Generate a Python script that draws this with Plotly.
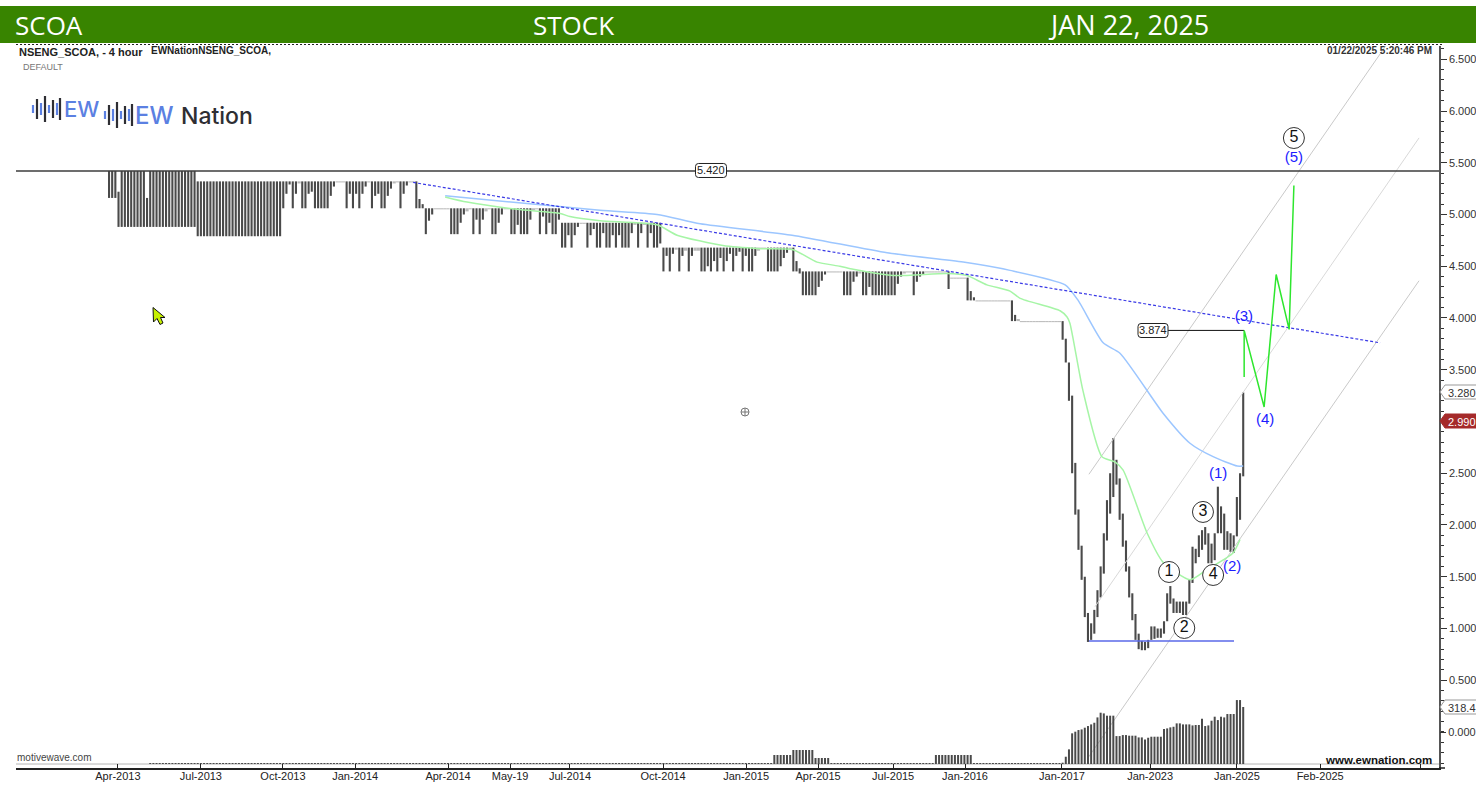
import plotly.graph_objects as go

# price bars, one per 4h slot
low_a = [5.16, 5.16, 5.16] + [4.88] * 25 + [4.79] * 27
low_b = [5.06, 5.20, 5.29, 5.06, 5.20, 5.30, 5.06, 5.06, 5.20, 5.22, 5.06, 5.06, 5.06, 5.06, 5.06,
         5.18, 5.27, 5.31, 5.31, 5.31, 5.06, 5.20, 5.06, 5.20, 5.06, 5.20, 5.27, 5.31, 5.06, 5.18,
         5.20, 5.06, 5.06, 5.18, 5.25, 5.30, 5.31, 5.06, 5.20, 5.28, 5.31, 5.31, 5.06, 5.06, 5.06]
low_c = [4.81, 4.94, 5.00, 5.05, 5.05, 5.05, 5.05, 5.05, 4.81, 4.81, 4.81, 4.92, 5.00, 5.03, 5.05,
         4.81, 4.95, 4.81, 4.95, 5.03, 5.05, 4.81, 4.81, 4.92, 5.00, 5.05, 5.05, 4.81, 4.81, 4.90,
         4.81, 4.81, 4.81, 4.95, 5.04, 5.05, 4.81, 4.98, 4.81, 4.92, 4.81, 4.81, 4.95]
low_d = [4.68, 4.68, 4.80, 4.68, 4.80, 4.88, 4.91, 4.91, 4.68, 4.80, 4.86, 4.68, 4.68, 4.82, 4.68, 4.68,
         4.80, 4.68, 4.80, 4.68, 4.68, 4.68, 4.82, 4.90, 4.68, 4.82, 4.90, 4.68, 4.82, 4.68, 4.68, 4.72]
low_e = [4.45, 4.60, 4.45, 4.62, 4.66, 4.45, 4.60, 4.65, 4.45, 4.60, 4.65, 4.65, 4.45, 4.45, 4.50,
         4.45, 4.55, 4.45, 4.58, 4.45, 4.55, 4.62, 4.45, 4.60, 4.64, 4.45, 4.60, 4.45, 4.45, 4.60,
         4.65, 4.67, 4.67, 4.45, 4.45, 4.45, 4.45, 4.50, 4.58, 4.63, 4.66, 4.45, 4.45, 4.43]
low_f = [4.22] * 5 + [4.30, 4.36, 4.42] + [4.44] * 5 + [4.22, 4.22, 4.22, 4.35, 4.40, 4.43, 4.22, 4.22, 4.30] \
    + [4.22] * 8 + [4.33, 4.40, 4.43, 4.44, 4.44, 4.22, 4.35, 4.40, 4.42] + [4.44] * 7 + [4.28] \
    + [4.38] * 5 + [4.17, 4.17, 4.17] + [4.16] * 11 + [3.97, 3.97, 3.97] + [3.96] * 13
low_g = [3.79, 3.57, 3.20, 2.50, 2.10, 1.76, 1.47, 1.11, 0.87, 0.89, 0.95, 1.11, 1.30, 1.53, 1.85, 2.11,
         2.27, 2.39, 2.05, 1.79, 1.55, 1.30, 1.08, 0.89, 0.80, 0.79, 0.79, 0.81, 0.89, 0.90, 0.91, 0.91,
         0.95, 1.07, 1.24, 1.15, 1.15, 1.15, 1.13, 1.13, 1.24, 1.44, 1.63, 1.69, 1.76, 1.81, 1.63, 1.63,
         1.66, 1.92, 1.92, 1.76, 1.76, 1.74, 1.73, 1.89, 2.05, 2.47]
bar_low = low_a + low_b + low_c + low_d + low_e + low_f + low_g

high_a = [5.42, 5.42, 5.42, 5.22] + [5.42] * 8 + [5.16] + [5.42] * 15
high_b = [5.32] * 70 + [5.15, 5.10]
high_c = [5.06] * 43 + [4.92] * 32 + [4.68] * 42 + [4.55, 4.48] + [4.45] * 47
high_d = [4.39] * 6 + [4.26, 4.20] + [4.17] * 12 + [4.03, 3.99] + [3.97] * 13
high_e = [3.97, 3.80, 3.57, 3.25, 2.60, 2.15, 1.80, 1.50, 1.15, 1.05, 1.18, 1.37, 1.60, 1.92, 2.24, 2.50,
          2.84, 2.63, 2.45, 2.11, 1.85, 1.60, 1.34, 1.14, 0.95, 0.88, 0.87, 0.89, 1.02, 1.02, 1.00, 1.00,
          1.07, 1.34, 1.41, 1.29, 1.26, 1.26, 1.26, 1.26, 1.47, 1.79, 1.77, 1.90, 1.95, 1.98, 1.92, 1.82,
          1.92, 2.37, 2.18, 2.11, 1.94, 1.92, 1.90, 2.27, 2.50, 3.28]
bar_high = high_a + high_b + high_c + high_d + high_e
assert len(bar_low) == len(bar_high) == 359, (len(bar_low), len(bar_high))
bar_slot = list(range(len(bar_high)))

# volume pane, on its own scale (0.000 and 318.4 are printed on the right)
vol_base = -408
vol_slot = list(range(13, 359))
vol_value = [-395] * 197 + [-293] * 6 + [-229] * 7 + [-331] * 5 + [-395] * 33 + [-293] * 12 + [-395] * 28 + [
    -391, -315, -221, -17, 4, 25, 33, 55, 76, 97, 118, 186, 246, 237, 208, 208, 208, -52, -52, -39, -39,
    -47, -47, -47, -69, -69, -94, -73, -60, -60, -60, -60, 38, 46, 59, 67, 110, 110, 97, 97, 97, 84,
    89, 89, 169, 76, 84, 144, 195, 152, 195, 186, 229, 229, 229, 407, 407, 318.4]
assert len(vol_value) == len(vol_slot), len(vol_value)

# moving averages
ma_blue_x = [106.1, 155, 173, 186.6, 215.6, 245.6, 269.6, 284.4, 301.8, 305.9, 313.8, 319.1, 332.7, 341.2, 348.5, 356.1, 358]
ma_blue_y = [5.18, 5.04, 5.00, 4.91, 4.80, 4.63, 4.54, 4.46, 4.32, 4.17, 3.76, 3.66, 3.08, 2.79, 2.66, 2.57, 2.57]
ma_green_x = [106.1, 113, 128.8, 142.4, 145.5, 155, 173, 179.3, 193.8, 205.5, 215.9, 223.5, 230.7, 234.9, 247.5, 264.5,
              270.8, 277.1, 284.4, 287.6, 300.2, 302.4, 303.3, 307.4, 313.4, 317.5, 320.1, 327.7, 332.7, 341.2, 346.6, 354.8, 357]
ma_green_y = [5.17, 5.12, 5.05, 5.01, 4.98, 4.94, 4.90, 4.80, 4.70, 4.67, 4.66, 4.54, 4.50, 4.47, 4.41, 4.43,
              4.41, 4.32, 4.26, 4.19, 4.07, 4.01, 3.95, 3.30, 2.66, 2.61, 2.53, 1.92, 1.64, 1.47, 1.57, 1.73, 1.86]

# drawn studies
resist_x = [-29.36, 419.8]
resist_y = [5.42, 5.42]
vol_floor_x = [-29.36, 419.8]
vol_floor_y = [-408, -408]
wave3_x = [334.3, 358.3]
wave3_y = [3.88, 3.88]
base_x = [309.3, 355.1]
base_y = [0.88, 0.88]
trend_x = [96, 401.2]
trend_y = [5.31, 3.76]
chan_top_x = [309.3, 403]
chan_top_y = [2.49, 6.63]
chan_mid_x = [311.2, 413.5]
chan_mid_y = [1.21, 5.74]
chan_low_x = [309, 413.5]
chan_low_y = [-0.25, 4.36]
proj_x = [358.3, 358.3, 364.6, 368.4, 372.5, 374]
proj_y = [3.43, 3.88, 3.14, 4.42, 3.89, 5.28]

# wave labels
circle_text = ["1", "2", "3", "4", "5"]
circle_x = [334.6, 339.4, 345.3, 348.5, 374]
circle_y = [1.546, 1.005, 2.126, 1.517, 5.739]
paren_text = ["(1)", "(2)", "(3)", "(4)", "(5)"]
paren_x = [350.1, 354.5, 358.2, 364.9, 374]
paren_y = [2.493, 1.59, 4.01, 3.014, 5.546]

# axes
date_slot = [2.8, 29, 54.9, 77.7, 107, 126.6, 145.5, 174.9, 201.1, 223.8, 247.5, 270.2, 300.8, 328.6, 356, 382.3, 414.1]
date_text = ["Apr-2013", "Jul-2013", "Oct-2013", "Jan-2014", "Apr-2014", "May-19", "Jul-2014", "Oct-2014", "Jan-2015",
             "Apr-2015", "Jul-2015", "Jan-2016", "Jan-2017", "Jan-2023", "Jan-2025", "Feb-2025", ""]
price_tick = [0.5, 1, 1.5, 2, 2.5, 3, 3.5, 4, 4.5, 5, 5.5, 6, 6.5]

W, H = 1476, 786
LEFT, RIGHT, TOP, BOTTOM = 16, 1439, 46, 768
ARIAL = "Liberation Sans"


def px(x):
    return (x - LEFT) / (RIGHT - LEFT)


def py(y):
    return (BOTTOM - y) / (BOTTOM - TOP)


def note(text, x, y, size, color, anchor="left", family=ARIAL, weight=None):
    font = dict(family=family, size=size, color=color)
    if weight:
        font["weight"] = weight
    return dict(text=text, x=px(x), y=py(y), xref="paper", yref="paper", showarrow=False,
                xanchor=anchor, yanchor="middle", font=font, borderpad=0)


def poly(points, fill, line="rgba(0,0,0,0)", width=1):
    path = "M " + " L ".join(f"{px(a):.5f} {py(b):.5f}" for a, b in points) + " Z"
    return dict(type="path", path=path, xref="paper", yref="paper", fillcolor=fill,
                line=dict(color=line, width=width), layer="above")


def rounded(xc, yc, w, h, r=3):
    x0, x1, y0, y1 = xc - w / 2, xc + w / 2, yc - h / 2, yc + h / 2
    path = (f"M {px(x0 + r):.5f} {py(y0):.5f} L {px(x1 - r):.5f} {py(y0):.5f} "
            f"Q {px(x1):.5f} {py(y0):.5f} {px(x1):.5f} {py(y0 + r):.5f} L {px(x1):.5f} {py(y1 - r):.5f} "
            f"Q {px(x1):.5f} {py(y1):.5f} {px(x1 - r):.5f} {py(y1):.5f} L {px(x0 + r):.5f} {py(y1):.5f} "
            f"Q {px(x0):.5f} {py(y1):.5f} {px(x0):.5f} {py(y1 - r):.5f} L {px(x0):.5f} {py(y0 + r):.5f} "
            f"Q {px(x0):.5f} {py(y0):.5f} {px(x0 + r):.5f} {py(y0):.5f} Z")
    return dict(type="path", path=path, xref="paper", yref="paper", fillcolor="white",
                line=dict(color="#222222", width=1), layer="above")


def seg(x0, y0, x1, y1, color, width=1, dash="solid"):
    return dict(type="line", x0=px(x0), y0=py(y0), x1=px(x1), y1=py(y1), xref="paper", yref="paper",
                line=dict(color=color, width=width, dash=dash), layer="above")


def callout(y, fill, line):
    return poly([(1440, y), (1445, y - 7), (1480, y - 7), (1480, y + 7), (1445, y + 7)], fill, line)


def line_trace(x, y, color, width=1, dash="solid", smooth=False, **kw):
    style = dict(color=color, width=width, dash=dash)
    if smooth:
        style.update(shape="spline", smoothing=0.6)
    return go.Scatter(x=x, y=y, mode="lines", line=style, hoverinfo="skip", **kw)


def sticks(slots, lows, highs, color, width, **kw):
    # one vertical stroke per slot, broken up with None
    xs, ys = [], []
    for s, l, h in zip(slots, lows, highs):
        xs += [s, s, None]
        ys += [l, h, None]
    return go.Scatter(x=xs, y=ys, mode="lines", line=dict(color=color, width=width), hoverinfo="skip", **kw)


fig = go.Figure()

flat = [i for i in bar_slot if bar_high[i] - bar_low[i] < 0.03]
full = [i for i in bar_slot if bar_high[i] - bar_low[i] >= 0.03]
fig.add_trace(line_trace(vol_floor_x, vol_floor_y, "#b5b5b5", 1, yaxis="y2"))
fig.add_trace(sticks(flat, [bar_low[i] for i in flat], [bar_high[i] for i in flat], "#b8b8b8", 3.2))
fig.add_trace(sticks(full, [bar_low[i] for i in full], [bar_high[i] for i in full], "#4a4a4a", 2.1))
fig.add_trace(sticks(vol_slot, [vol_base] * len(vol_slot), vol_value, "#4a4a4a", 2.0, yaxis="y2"))

fig.add_trace(line_trace(chan_top_x, chan_top_y, "#c9c9c9"))
fig.add_trace(line_trace(chan_mid_x, chan_mid_y, "#d9d9d9"))
fig.add_trace(line_trace(chan_low_x, chan_low_y, "#c9c9c9"))
fig.add_trace(line_trace(ma_blue_x, ma_blue_y, "#9cc6ff", 1.5, smooth=True))
fig.add_trace(line_trace(ma_green_x, ma_green_y, "#a6f5a6", 1.5, smooth=True))
fig.add_trace(line_trace(resist_x, resist_y, "#3c3c3c", 1.5))
fig.add_trace(line_trace(trend_x, trend_y, "#3a3ae6", 1.2, "3px,2px"))
fig.add_trace(line_trace(base_x, base_y, "#5a68e8", 1.5))
fig.add_trace(line_trace(wave3_x, wave3_y, "#111111", 1))
fig.add_trace(line_trace(proj_x, proj_y, "#2ee62e", 1.5))

fig.add_trace(go.Scatter(x=circle_x, y=circle_y, mode="markers+text", text=circle_text, textposition="middle center",
                         textfont=dict(family=ARIAL, size=16, color="#111111"),
                         marker=dict(size=21, color="white", line=dict(color="#333333", width=1))))
fig.add_trace(go.Scatter(x=paren_x, y=paren_y, mode="text", text=paren_text, textposition="middle center",
                         textfont=dict(family=ARIAL, size=15, color="#1c1cff")))

# logo waveform offsets and half heights
logo_dx = [0, 4, 8, 12, 16, 20, 24, 27]
logo_half = [4, 10, 6, 13, 4, 9, 6, 11]
logo_dark = [False, True, False, True, False, True, False, True]

shapes = [
    dict(type="rect", x0=px(-5), x1=px(W + 5), y0=py(6), y1=py(43), xref="paper", yref="paper",
         fillcolor="#388400", line_width=0, layer="above"),
    seg(16, 44.5, 1444, 44.5, "#222222", 1, "2px,2px"),
    seg(1439, 768, 1445, 768, "#222222", 1.5),
    rounded(711, 170.5, 31, 14),
    rounded(1153, 330.5, 30, 14),
    callout(392, "white", "#999999"),
    callout(421, "#a52a2a", "#a52a2a"),
    callout(707, "white", "#999999"),
    poly([(153, 307.5), (153.5, 322), (157, 318.5), (160, 324.5), (163, 323), (160.5, 317.5), (165, 317.5)],
         "#c6f000", "#111111", 1),
    dict(type="circle", x0=px(741), x1=px(749), y0=py(408), y1=py(416), xref="paper", yref="paper",
         line=dict(color="#777777", width=1), layer="above"),
    seg(745, 408, 745, 416, "#777777"),
    seg(741, 412, 749, 412, "#777777"),
]
for ox, oy in [(33, 109), (105, 115)]:
    for dx, half, dark in zip(logo_dx, logo_half, logo_dark):
        shapes.append(seg(ox + dx, oy - half, ox + dx, oy + half, "#2e2e33" if dark else "#5b80e2", 2.2))

annotations = [
    note("SCOA", 14, 25, 26, "white", family="Open Sans"),
    note("STOCK", 532, 25, 26, "white", family="Open Sans"),
    note("JAN 22, 2025", 1047, 25, 27, "white", family="Open Sans"),
    note("NSENG_SCOA, - 4 hour", 18, 52.5, 11, "#222222", weight=700),
    note("EWNationNSENG_SCOA,", 150, 50.5, 10, "#222222", weight=700),
    note("DEFAULT", 22, 66.5, 9, "#777777"),
    note("01/22/2025 5:20:46 PM", 1433, 50.5, 10, "#333333", anchor="right", weight=700),
    note("motivewave.com", 16, 757, 10, "#444444"),
    note("www.ewnation.com", 1433, 760, 11.5, "#111111", anchor="right", weight=700),
    note("EW", 63, 109, 22, "#5b80e2", family="Inter", weight=500),
    note("EW", 134, 115.5, 24, "#5b80e2", family="Inter", weight=500),
    note("Nation", 180, 116, 23, "#2e2e33", family="Inter", weight=500),
    note("5.420", 711, 170.5, 11, "#222222", anchor="center"),
    note("3.874", 1153, 330.5, 11, "#222222", anchor="center"),
    note("3.280", 1447, 392.5, 11, "#333333"),
    note("2.990", 1447, 421.5, 11, "white"),
    note("318.4", 1447, 707.5, 11, "#333333"),
]

fig.update_layout(
    width=W, height=H, showlegend=False,
    paper_bgcolor="white", plot_bgcolor="white",
    margin=dict(l=LEFT, r=W - RIGHT, t=TOP, b=H - BOTTOM, pad=0, autoexpand=False),
    xaxis=dict(range=[-29.36, 419.8], tickmode="array", tickvals=date_slot, ticktext=date_text, ticks="inside",
               ticklen=4, tickcolor="#222222", showgrid=False, zeroline=False, showline=True, linecolor="#222222",
               linewidth=1.5, automargin=False, ticklabelstandoff=-3, tickfont=dict(family=ARIAL, size=11, color="#222222")),
    yaxis=dict(range=[-0.348, 6.628], side="right", tickmode="array", tickvals=price_tick,
               ticktext=[f"{p:.3f}" for p in price_tick], ticks="outside", ticklen=6, tickcolor="#333333",
               minor=dict(dtick=0.1, ticks="outside", ticklen=3, tickcolor="#333333", showgrid=False),
               showgrid=False, zeroline=False, showline=True, linecolor="#555555", linewidth=1.5, automargin=False,
               tickfont=dict(family=ARIAL, size=11, color="#333333")),
    yaxis2=dict(range=[-458.6, 8740], overlaying="y", side="right", tickmode="array", tickvals=[0], ticktext=["0.000"],
                ticks="outside", ticklen=6, tickcolor="#333333", showgrid=False, zeroline=False, automargin=False,
                tickfont=dict(family=ARIAL, size=11, color="#333333")),
    shapes=shapes, annotations=annotations, hovermode=False,
)

fig.write_html("out.html", config=dict(displayModeBar=False),
               post_script="document.body.style.margin='0';document.body.style.overflow='hidden';")
